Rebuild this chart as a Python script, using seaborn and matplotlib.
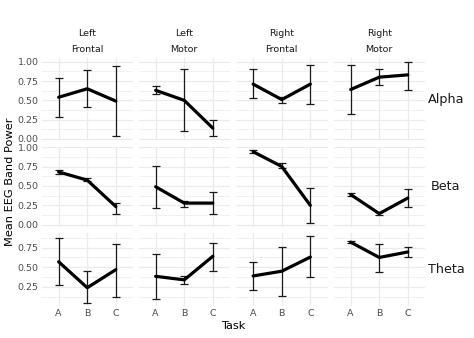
import numpy as np
import pandas as pd
import matplotlib
matplotlib.use("Agg")
import matplotlib.pyplot as plt
from matplotlib.ticker import MultipleLocator
import seaborn as sns

tasks = ["A", "B", "C"]
hemispheres = ["Left", "Left", "Right", "Right"]
regions = ["Frontal", "Motor", "Frontal", "Motor"]
bands = ["Alpha", "Beta", "Theta"]

# mean values [region][task]
alpha_mean = [[0.54, 0.65, 0.49], [0.63, 0.50, 0.14], [0.71, 0.51, 0.71], [0.64, 0.80, 0.83]]
alpha_low = [[0.29, 0.41, 0.04], [0.58, 0.10, 0.035], [0.53, 0.46, 0.455], [0.32, 0.70, 0.64]]
alpha_high = [[0.79, 0.89, 0.95], [0.68, 0.905, 0.24], [0.90, 0.54, 0.96], [0.96, 0.90, 1.00]]

beta_mean = [[0.68, 0.575, 0.235], [0.49, 0.28, 0.28], [0.94, 0.75, 0.25], [0.39, 0.145, 0.345]]
beta_low = [[0.66, 0.56, 0.145], [0.215, 0.235, 0.14], [0.92, 0.73, 0.02], [0.37, 0.13, 0.235]]
beta_high = [[0.71, 0.60, 0.28], [0.76, 0.31, 0.42], [0.96, 0.79, 0.48], [0.41, 0.16, 0.465]]

theta_mean = [[0.57, 0.24, 0.47], [0.385, 0.34, 0.64], [0.39, 0.45, 0.63], [0.82, 0.625, 0.695]]
theta_low = [[0.27, 0.05, 0.12], [0.10, 0.29, 0.45], [0.21, 0.13, 0.375], [0.81, 0.445, 0.63]]
theta_high = [[0.87, 0.45, 0.80], [0.675, 0.385, 0.815], [0.565, 0.76, 0.90], [0.83, 0.80, 0.76]]

means = {"Alpha": alpha_mean, "Beta": beta_mean, "Theta": theta_mean}
lows = {"Alpha": alpha_low, "Beta": beta_low, "Theta": theta_low}
highs = {"Alpha": alpha_high, "Beta": beta_high, "Theta": theta_high}

rows = []
for b in bands:
    for r in range(4):
        for t, task in enumerate(tasks):
            rows.append(dict(band=b, col=r, task=task, mean=means[b][r][t],
                             low=lows[b][r][t], high=highs[b][r][t]))
df = pd.DataFrame(rows)

sns.set_theme(style="whitegrid")
plt.rcParams['font.family'] = ['DejaVu Sans']

W, H = 474, 338
fig = plt.figure(figsize=(W / 100, H / 100), dpi=100)
fig.patch.set_facecolor("white")

col_left = [41.5, 138.5, 236.0, 333.5]
col_w = 91.5
row_tb = [(58.0, 140.0), (146.5, 227.0), (232.5, 306.0)]

def fx(px):
    return px / W

def fy(py):
    return 1 - py / H

grid_c = "#ebebeb"
for i, b in enumerate(bands):
    sub_b = df[df.band == b]
    lo = sub_b["low"].min()
    hi = sub_b["high"].max()
    pad = (hi - lo) * 0.05
    top, bot = row_tb[i]
    for j in range(4):
        ax = fig.add_axes([fx(col_left[j]), fy(bot), col_w / W, (bot - top) / H])
        ax.set_facecolor("white")
        sub = sub_b[sub_b.col == j]
        xs = np.arange(len(tasks))
        ax.errorbar(xs, sub["mean"].values,
                    yerr=[sub["mean"].values - sub["low"].values,
                          sub["high"].values - sub["mean"].values],
                    fmt="none", ecolor="#1a1a1a", elinewidth=0.9, capsize=3.2,
                    capthick=0.9, zorder=3)
        sns.lineplot(data=sub, x="task", y="mean", ax=ax, color="black",
                     linewidth=2.3, sort=False, zorder=4, legend=False)
        ax.set_xlim(-0.6, 2.6)
        ax.set_ylim(lo - pad, hi + pad)
        ax.yaxis.set_major_locator(MultipleLocator(0.25))
        ax.yaxis.set_minor_locator(MultipleLocator(0.125))
        ax.grid(True, which="major", color=grid_c, linewidth=0.9)
        ax.grid(True, which="minor", axis="y", color=grid_c, linewidth=0.5)
        ax.set_axisbelow(True)
        for s in ax.spines.values():
            s.set_visible(False)
        ax.tick_params(axis="both", which="both", length=0, labelsize=6.8,
                       labelcolor="#4d4d4d", pad=2)
        ax.set_xlabel("")
        ax.set_ylabel("")
        if j != 0:
            ax.set_yticklabels([])
        else:
            ax.yaxis.set_major_formatter(matplotlib.ticker.FormatStrFormatter("%.2f"))
        if i != 2:
            ax.set_xticklabels([])
        if i == 0:
            cx = fx(col_left[j] + col_w / 2)
            fig.text(cx, fy(33), hemispheres[j], ha="center", va="center",
                     fontsize=6.8, color="#1a1a1a")
            fig.text(cx, fy(50), regions[j], ha="center", va="center",
                     fontsize=6.8, color="#1a1a1a")
    fig.text(fx(446), fy((top + bot) / 2), b, ha="center", va="center",
             fontsize=9.2, color="#1a1a1a")

fig.text(fx(10), fy(182), "Mean EEG Band Power", rotation=90, ha="center",
         va="center", fontsize=8.2, color="black")
fig.text(fx(233), fy(326), "Task", ha="center", va="center", fontsize=8.2,
         color="black")

fig.savefig("out.png", dpi=100, facecolor="white")
